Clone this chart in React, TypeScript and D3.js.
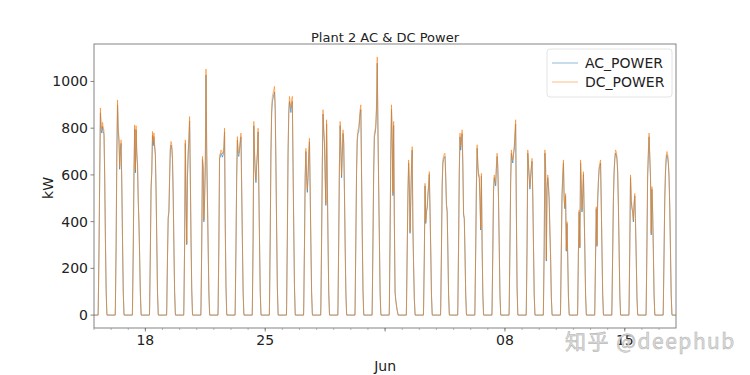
import React from "react";
import * as d3 from "d3";

// ---- data ----
const START = "2020-05-15T00:00:00Z";
const END = "2020-06-17T23:45:00Z";
const HOURS = [6, 7, 8, 9, 10, 11, 12, 13, 14, 15, 16, 17, 18];
const SUNRISE = 5.75;
const SUNSET = 18.25;

const DC_DAILY = [
  [40, 280, 600, 886, 810, 795, 825, 800, 790, 600, 330, 110, 8],
  [40, 300, 700, 921, 800, 760, 636, 720, 750, 560, 320, 100, 8],
  [40, 280, 600, 814, 621, 810, 700, 650, 500, 400, 250, 90, 8],
  [40, 280, 550, 621, 786, 740, 780, 730, 700, 540, 320, 100, 8],
  [35, 250, 421, 450, 600, 720, 743, 730, 680, 520, 300, 100, 8],
  [40, 300, 750, 500, 307, 600, 700, 760, 850, 600, 330, 110, 8],
  [40, 300, 679, 640, 407, 500, 650, 1053, 700, 500, 300, 100, 8],
  [40, 300, 686, 690, 707, 700, 690, 700, 720, 800, 380, 120, 8],
  [40, 300, 600, 764, 700, 693, 720, 750, 779, 550, 320, 100, 8],
  [40, 320, 829, 700, 620, 579, 650, 700, 800, 560, 320, 100, 8],
  [45, 340, 700, 880, 936, 950, 965, 979, 900, 650, 370, 120, 8],
  [45, 340, 700, 880, 936, 910, 886, 920, 936, 650, 370, 120, 8],
  [40, 300, 600, 714, 600, 536, 600, 700, 757, 540, 310, 100, 8],
  [40, 320, 650, 879, 800, 750, 600, 479, 836, 580, 330, 100, 8],
  [40, 320, 650, 829, 720, 600, 700, 793, 750, 540, 310, 100, 8],
  [40, 320, 620, 760, 793, 800, 840, 880, 900, 620, 350, 110, 8],
  [40, 320, 620, 780, 793, 820, 900, 1105, 800, 560, 330, 100, 8],
  [40, 350, 700, 900, 750, 521, 829, 400, 100, 64, 40, 20, 5],
  [40, 280, 520, 664, 560, 357, 500, 640, 721, 380, 207, 70, 5],
  [40, 260, 564, 400, 450, 464, 520, 560, 614, 450, 280, 90, 5],
  [40, 280, 560, 664, 680, 690, 693, 600, 479, 450, 280, 90, 5],
  [40, 300, 620, 779, 720, 760, 793, 650, 436, 420, 270, 90, 5],
  [40, 280, 560, 729, 650, 607, 600, 500, 371, 607, 300, 90, 5],
  [40, 280, 540, 600, 580, 564, 640, 693, 640, 500, 300, 90, 5],
  [40, 300, 580, 707, 680, 664, 700, 720, 780, 836, 450, 120, 5],
  [40, 300, 707, 650, 600, 550, 600, 640, 671, 520, 300, 90, 5],
  [40, 300, 707, 636, 236, 550, 600, 560, 500, 364, 250, 80, 5],
  [40, 280, 520, 600, 664, 500, 464, 520, 279, 400, 250, 80, 5],
  [40, 280, 450, 293, 664, 560, 450, 520, 614, 450, 280, 90, 5],
  [35, 250, 464, 300, 500, 580, 636, 650, 664, 480, 280, 90, 5],
  [40, 270, 500, 620, 680, 707, 700, 680, 620, 480, 290, 90, 5],
  [40, 300, 600, 500, 464, 450, 407, 480, 520, 400, 250, 80, 5],
  [40, 300, 600, 700, 779, 686, 600, 350, 550, 450, 280, 90, 5],
  [40, 270, 500, 620, 680, 700, 690, 660, 600, 470, 280, 90, 5],
];

const AC_DAILY = [
  [39, 274, 588, 866, 793, 779, 808, 784, 774, 588, 323, 108, 8],
  [39, 294, 686, 900, 784, 745, 624, 706, 735, 549, 314, 98, 8],
  [39, 274, 588, 797, 609, 793, 686, 637, 490, 392, 245, 88, 8],
  [39, 274, 539, 609, 770, 725, 764, 715, 686, 529, 314, 98, 8],
  [34, 245, 413, 441, 588, 706, 728, 715, 666, 510, 294, 98, 8],
  [39, 294, 735, 490, 301, 588, 686, 745, 831, 588, 323, 108, 8],
  [39, 294, 666, 627, 399, 490, 637, 1028, 686, 490, 294, 98, 8],
  [39, 294, 672, 676, 693, 686, 676, 686, 706, 784, 372, 118, 8],
  [39, 294, 588, 749, 686, 679, 706, 735, 763, 539, 314, 98, 8],
  [39, 314, 810, 686, 608, 567, 637, 686, 784, 549, 314, 98, 8],
  [44, 333, 686, 861, 914, 928, 942, 955, 880, 637, 363, 118, 8],
  [44, 333, 686, 861, 914, 890, 867, 900, 914, 637, 363, 118, 8],
  [39, 294, 588, 700, 588, 525, 588, 686, 742, 529, 304, 98, 8],
  [39, 314, 637, 860, 784, 735, 588, 469, 818, 568, 323, 98, 8],
  [39, 314, 637, 811, 706, 588, 686, 777, 735, 529, 304, 98, 8],
  [39, 314, 608, 745, 777, 784, 822, 861, 880, 608, 343, 108, 8],
  [39, 314, 608, 764, 777, 803, 880, 1078, 784, 549, 323, 98, 8],
  [39, 343, 686, 880, 735, 511, 811, 392, 98, 63, 39, 20, 5],
  [39, 274, 510, 651, 549, 350, 490, 627, 706, 372, 203, 69, 5],
  [39, 255, 553, 392, 441, 455, 510, 549, 602, 441, 274, 88, 5],
  [39, 274, 549, 651, 666, 676, 679, 588, 469, 441, 274, 88, 5],
  [39, 294, 608, 763, 706, 745, 777, 637, 427, 412, 265, 88, 5],
  [39, 274, 549, 714, 637, 595, 588, 490, 364, 595, 294, 88, 5],
  [39, 274, 529, 588, 568, 553, 627, 679, 627, 490, 294, 88, 5],
  [39, 294, 568, 693, 666, 651, 686, 706, 764, 818, 441, 118, 5],
  [39, 294, 693, 637, 588, 539, 588, 627, 658, 510, 294, 88, 5],
  [39, 294, 693, 623, 231, 539, 588, 549, 490, 357, 245, 78, 5],
  [39, 274, 510, 588, 651, 490, 455, 510, 273, 392, 245, 78, 5],
  [39, 274, 441, 287, 651, 549, 441, 510, 602, 441, 274, 88, 5],
  [34, 245, 455, 294, 490, 568, 623, 637, 651, 470, 274, 88, 5],
  [39, 265, 490, 608, 666, 693, 686, 666, 608, 470, 284, 88, 5],
  [39, 294, 588, 490, 455, 441, 399, 470, 510, 392, 245, 78, 5],
  [39, 294, 588, 686, 763, 672, 588, 343, 539, 441, 274, 88, 5],
  [39, 265, 490, 608, 666, 686, 676, 647, 588, 461, 274, 88, 5],
];

const Y_TICKS = [0, 200, 400, 600, 800, 1000];
const X_MAJOR = ["2020-05-18", "2020-05-25", "2020-06-01", "2020-06-08", "2020-06-15"];
const X_LABELS = ["18", "25", "", "08", "15"];
const MONTH_LABEL = { date: "2020-06-01", text: "Jun" };
const SERIES = [
  { name: "AC_POWER", color: "#1f77b4", data: AC_DAILY },
  { name: "DC_POWER", color: "#ff7f0e", data: DC_DAILY },
];

type Pt = { t: Date; v: number };

function buildSeries(days: number[][]): Pt[] {
  const start = new Date(START).getTime();
  const H = 3600 * 1000;
  const pts: Pt[] = [{ t: new Date(start), v: 0 }];
  days.forEach((vals, d) => {
    const base = start + d * 24 * H;
    pts.push({ t: new Date(base + SUNRISE * H), v: 0 });
    vals.forEach((v, i) => pts.push({ t: new Date(base + HOURS[i] * H), v }));
    pts.push({ t: new Date(base + SUNSET * H), v: 0 });
  });
  pts.push({ t: new Date(END), v: 0 });
  return pts;
}

export default function App() {
  const W = 750, H = 375;
  const L = 94, R = 676, T = 44, B = 328;
  const font = "'DejaVu Sans', sans-serif";
  const fs = 14;

  const x = d3.scaleUtc().domain([new Date(START), new Date(END)]).range([L, R]);
  const y = d3.scaleLinear().domain([-55.3, 1160.3]).range([B, T]);

  const line = d3
    .line<Pt>()
    .x((p) => x(p.t))
    .y((p) => y(p.v));

  const minorDays = d3.utcDay.range(new Date(START), new Date(END));
  const majorDates = X_MAJOR.map((s) => new Date(s + "T00:00:00Z"));

  return (
    <svg width={W} height={H} style={{ position: "absolute", left: 0, top: 0, background: "#fff" }}>
      <rect x={0} y={0} width={W} height={H} fill="#fff" />
      <text x={(L + R) / 2} y={42} textAnchor="middle" fontFamily={font} fontSize={13} fill="#222">
        Plant 2 AC &amp; DC Power
      </text>

      <defs>
        <clipPath id="clip">
          <rect x={L} y={T} width={R - L} height={B - T} />
        </clipPath>
      </defs>

      {/* lines */}
      <g clipPath="url(#clip)">
        {SERIES.map((s) => (
          <path
            key={s.name}
            d={line(buildSeries(s.data)) || ""}
            fill="none"
            stroke={s.color}
            strokeWidth={1}
            strokeOpacity={0.6}
            strokeLinejoin="round"
          />
        ))}
      </g>

      {/* spines */}
      <rect x={L} y={T} width={R - L} height={B - T} fill="none" stroke="#777" strokeWidth={0.9} />

      {/* y axis */}
      {Y_TICKS.map((v) => (
        <g key={v}>
          <line x1={L - 3.5} x2={L} y1={y(v)} y2={y(v)} stroke="#666" strokeWidth={0.8} />
          <text x={L - 6} y={y(v)} dy="0.36em" textAnchor="end" fontFamily={font} fontSize={fs} fill="#222">
            {v}
          </text>
        </g>
      ))}
      <text
        transform={`translate(53,${(T + B) / 2 + 2}) rotate(-90)`}
        textAnchor="middle"
        fontFamily={font}
        fontSize={fs}
        fill="#222"
      >
        kW
      </text>

      {/* x axis */}
      {minorDays.map((d, i) => (
        <line key={i} x1={x(d)} x2={x(d)} y1={B} y2={B + 2} stroke="#888" strokeWidth={0.6} />
      ))}
      {majorDates.map((d, i) => (
        <g key={"m" + i}>
          <line x1={x(d)} x2={x(d)} y1={B} y2={B + 3.5} stroke="#666" strokeWidth={0.8} />
          {X_LABELS[i] && (
            <text x={x(d)} y={B + 17} textAnchor="middle" fontFamily={font} fontSize={fs} fill="#222">
              {X_LABELS[i]}
            </text>
          )}
        </g>
      ))}
      <text
        x={x(new Date(MONTH_LABEL.date + "T00:00:00Z"))}
        y={371}
        textAnchor="middle"
        fontFamily={font}
        fontSize={fs}
        fill="#222"
      >
        {MONTH_LABEL.text}
      </text>

      {/* legend */}
      <rect x={547} y={49} width={125} height={48} rx={3} fill="#fff" fillOpacity={0.85} stroke="#ddd" strokeWidth={0.8} />
      {SERIES.map((s, i) => (
        <g key={"lg" + s.name}>
          <line x1={552} x2={578} y1={63 + i * 19} y2={63 + i * 19} stroke={s.color} strokeWidth={1} strokeOpacity={0.5} />
          <text x={585} y={63 + i * 19} dy="0.36em" fontFamily={font} fontSize={fs} fill="#222">
            {s.name}
          </text>
        </g>
      ))}

      {/* watermark */}
      <text
        x={565}
        y={349}
        fontFamily="'Noto Sans CJK SC', 'Noto Sans', sans-serif"
        fontSize={21}
        letterSpacing={1.5}
        fill="#dcdcdc"
        stroke="#b0b0b0"
        strokeWidth={0.5}
      >
        知乎 @deephub
      </text>
    </svg>
  );
}
